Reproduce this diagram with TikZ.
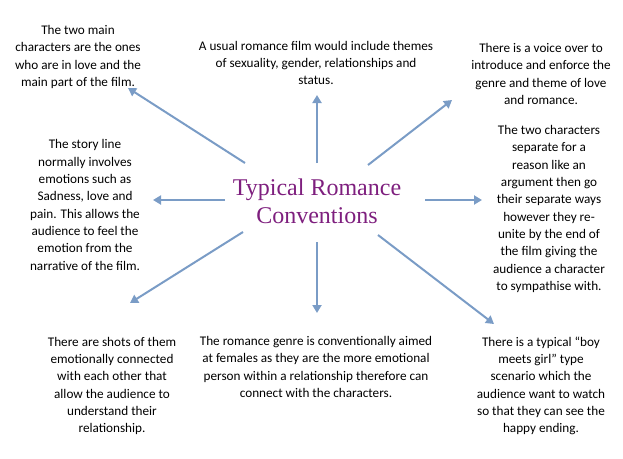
\documentclass[tikz,border=0pt]{standalone}
\usepackage{fontspec}
\setmainfont{Carlito}
\newfontfamily\titlefont{Liberation Serif}
\usetikzlibrary{arrows.meta}
\definecolor{arr}{HTML}{7A9CC6}
\definecolor{ttl}{HTML}{7E1F7E}
\begin{document}
\begin{tikzpicture}[x=1pt,y=-1pt,
  txt/.style={align=center,font=\fontsize{13.2}{17.3}\selectfont,inner sep=0pt},
  conn/.style={draw=arr,line width=2pt,-{Triangle[length=8pt,width=9pt]}}]
\useasboundingbox (0,0) rectangle (623,458);
\node[font=\titlefont\fontsize{24}{28}\selectfont,text=ttl,align=center] (t) at (317,201) {Typical Romance\\Conventions};
\node[txt] (a) at (78,57) {The two main\\characters are the ones\\who are in love and the\\main part of the film.};
\node[txt] (b) at (316,63) {A usual romance film would include themes\\of sexuality, gender, relationships and\\status.};
\node[txt] (c) at (541,74) {There is a voice over to\\introduce and enforce the\\genre and theme of love\\and romance.};
\node[txt] (d) at (85,205) {The story line\\normally involves\\emotions such as\\Sadness, love and\\pain. This allows the\\audience to feel the\\emotion from the\\narrative of the film.};
\node[txt] (e) at (549,209) {The two characters\\separate for a\\reason like an\\argument then go\\their separate ways\\however they re-\\unite by the end of\\the film giving the\\audience a character\\to sympathise with.};
\node[txt] (f) at (112,386) {There are shots of them\\emotionally connected\\with each other that\\allow the audience to\\understand their\\relationship.};
\node[txt] (g) at (316,367) {The romance genre is conventionally aimed\\at females as they are the more emotional\\person within a relationship therefore can\\connect with the characters.};
\node[txt] (h) at (541,386) {There is a typical “boy\\meets girl” type\\scenario which the\\audience want to watch\\so that they can see the\\happy ending.};
\coordinate (s1) at (245,163); \coordinate (e1) at (128,88);
\coordinate (s2) at (317,163); \coordinate (e2) at (317,95);
\coordinate (s3) at (368,165); \coordinate (e3) at (452,100);
\coordinate (s4) at (225,200); \coordinate (e4) at (153,200);
\coordinate (s5) at (425,200); \coordinate (e5) at (482,200);
\coordinate (s6) at (243,232); \coordinate (e6) at (130,303);
\coordinate (s7) at (317,242); \coordinate (e7) at (317,313);
\coordinate (s8) at (378,235); \coordinate (e8) at (494,324);
\foreach \i in {1,...,8} \draw[conn] (s\i) -- (e\i);
\end{tikzpicture}
\end{document}
